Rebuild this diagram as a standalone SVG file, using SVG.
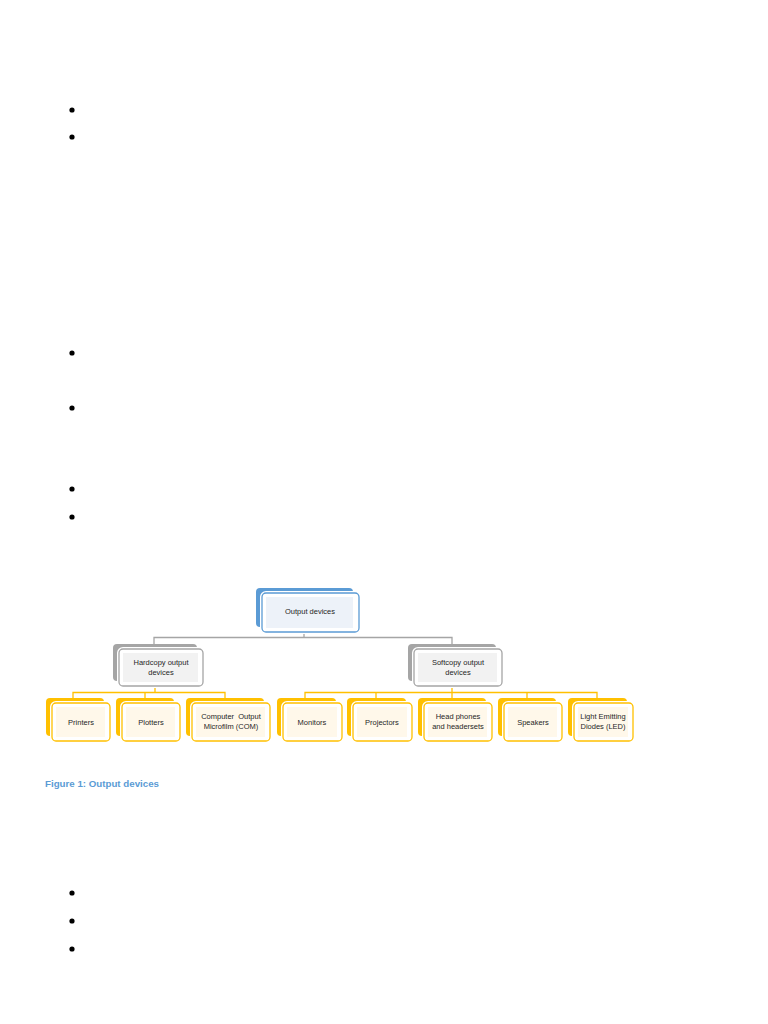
<svg xmlns="http://www.w3.org/2000/svg" width="768" height="1024" viewBox="0 0 768 1024">
<style>
  text { font-family: "Liberation Sans", Arial, sans-serif; font-size: 7.5px; fill: #262626; text-anchor: middle; }
  .halo { fill: none; stroke: #ffffff; stroke-width: 4; }
  .blue .back { fill: #5b9bd5; }
  .blue .front { fill: #ffffff; stroke: #5b9bd5; stroke-width: 1.3; }
  .blue .inner { fill: #edf2f9; }
  .grey .back { fill: #a5a5a5; }
  .grey .front { fill: #ffffff; stroke: #a5a5a5; stroke-width: 1.3; }
  .grey .inner { fill: #f2f2f2; }
  .yel .back { fill: #ffc000; }
  .yel .front { fill: #ffffff; stroke: #ffc000; stroke-width: 1.3; }
  .yel .inner { fill: #fff8ea; }
  .gline { stroke: #a5a5a5; stroke-width: 1.3; fill: none; }
  .yline { stroke: #ffc000; stroke-width: 1.3; fill: none; }
  .bullet { fill: #000000; }
  .caption { font-size: 9px; font-weight: bold; fill: #5b9bd5; text-anchor: start; }
</style>
<rect width="768" height="1024" fill="#ffffff"/>

<g id="bullets">
  <circle class="bullet" cx="72" cy="110" r="2.6"/>
  <circle class="bullet" cx="72" cy="137" r="2.6"/>
  <circle class="bullet" cx="72" cy="353" r="2.6"/>
  <circle class="bullet" cx="72" cy="408" r="2.6"/>
  <circle class="bullet" cx="72" cy="489" r="2.6"/>
  <circle class="bullet" cx="72" cy="517" r="2.6"/>
  <circle class="bullet" cx="72" cy="893" r="2.6"/>
  <circle class="bullet" cx="72" cy="921" r="2.6"/>
  <circle class="bullet" cx="72" cy="949" r="2.6"/>
</g>

<g id="connectors">
  <path class="gline" d="M304 632 V637.5 M154 645 V637.5 H452 V645"/>
  <path class="yline" d="M155 686 V692.5 M73 698 V692.5 H225 V698 M145 692.5 V698"/>
  <path class="yline" d="M452 686 V692.5 M305 698 V692.5 H597 V698 M376 692.5 V698 M452 692.5 V698 M527 692.5 V698"/>
</g>

<g id="output-devices" class="blue">
  <rect class="back" x="256" y="588" width="97" height="39" rx="4"/>
  <rect class="halo" x="262" y="593" width="97" height="39" rx="4"/>
  <rect class="front" x="262" y="593" width="97" height="39" rx="4"/>
  <rect class="inner" x="266" y="597" width="87" height="31"/>
  <text x="310" y="614">Output devices</text>
</g>

<g id="hardcopy" class="grey">
  <rect class="back" x="113" y="644" width="84" height="37" rx="4"/>
  <rect class="halo" x="119" y="649" width="84" height="37" rx="4"/>
  <rect class="front" x="119" y="649" width="84" height="37" rx="4"/>
  <rect class="inner" x="123" y="653" width="75" height="29"/>
  <text x="161" y="665">Hardcopy output</text>
  <text x="161" y="675">devices</text>
</g>

<g id="softcopy" class="grey">
  <rect class="back" x="408" y="644" width="88" height="37" rx="4"/>
  <rect class="halo" x="414" y="649" width="88" height="37" rx="4"/>
  <rect class="front" x="414" y="649" width="88" height="37" rx="4"/>
  <rect class="inner" x="418" y="653" width="79" height="29"/>
  <text x="458" y="665">Softcopy output</text>
  <text x="458" y="675">devices</text>
</g>

<g id="printers" class="yel">
  <rect class="back" x="46" y="698" width="58" height="38" rx="4"/>
  <rect class="halo" x="52" y="703" width="58" height="38" rx="4"/>
  <rect class="front" x="52" y="703" width="58" height="38" rx="4"/>
  <rect class="inner" x="56" y="707" width="49" height="30"/>
  <text x="81" y="725">Printers</text>
</g>

<g id="plotters" class="yel">
  <rect class="back" x="116" y="698" width="58" height="38" rx="4"/>
  <rect class="halo" x="122" y="703" width="58" height="38" rx="4"/>
  <rect class="front" x="122" y="703" width="58" height="38" rx="4"/>
  <rect class="inner" x="126" y="707" width="49" height="30"/>
  <text x="151" y="725">Plotters</text>
</g>

<g id="com" class="yel">
  <rect class="back" x="186" y="698" width="78" height="38" rx="4"/>
  <rect class="halo" x="192" y="703" width="78" height="38" rx="4"/>
  <rect class="front" x="192" y="703" width="78" height="38" rx="4"/>
  <rect class="inner" x="196" y="707" width="69" height="30"/>
  <text x="231" y="719" xml:space="preserve">Computer  Output</text>
  <text x="231" y="729">Microfilm (COM)</text>
</g>

<g id="monitors" class="yel">
  <rect class="back" x="277" y="698" width="59" height="38" rx="4"/>
  <rect class="halo" x="283" y="703" width="59" height="38" rx="4"/>
  <rect class="front" x="283" y="703" width="59" height="38" rx="4"/>
  <rect class="inner" x="287" y="707" width="50" height="30"/>
  <text x="312" y="725">Monitors</text>
</g>

<g id="projectors" class="yel">
  <rect class="back" x="347" y="698" width="59" height="38" rx="4"/>
  <rect class="halo" x="353" y="703" width="59" height="38" rx="4"/>
  <rect class="front" x="353" y="703" width="59" height="38" rx="4"/>
  <rect class="inner" x="357" y="707" width="50" height="30"/>
  <text x="382" y="725">Projectors</text>
</g>

<g id="headphones" class="yel">
  <rect class="back" x="418" y="698" width="68" height="38" rx="4"/>
  <rect class="halo" x="424" y="703" width="68" height="38" rx="4"/>
  <rect class="front" x="424" y="703" width="68" height="38" rx="4"/>
  <rect class="inner" x="428" y="707" width="59" height="30"/>
  <text x="458" y="719">Head phones</text>
  <text x="458" y="729">and headersets</text>
</g>

<g id="speakers" class="yel">
  <rect class="back" x="498" y="698" width="58" height="38" rx="4"/>
  <rect class="halo" x="504" y="703" width="58" height="38" rx="4"/>
  <rect class="front" x="504" y="703" width="58" height="38" rx="4"/>
  <rect class="inner" x="508" y="707" width="49" height="30"/>
  <text x="533" y="725">Speakers</text>
</g>

<g id="led" class="yel">
  <rect class="back" x="568" y="698" width="59" height="38" rx="4"/>
  <rect class="halo" x="574" y="703" width="59" height="38" rx="4"/>
  <rect class="front" x="574" y="703" width="59" height="38" rx="4"/>
  <rect class="inner" x="578" y="707" width="50" height="30"/>
  <text x="603" y="719">Light Emitting</text>
  <text x="603" y="729">Diodes (LED)</text>
</g>

<g id="caption">
  <text class="caption" x="45" y="787" textLength="114" lengthAdjust="spacingAndGlyphs">Figure 1: Output devices</text>
</g>
</svg>
